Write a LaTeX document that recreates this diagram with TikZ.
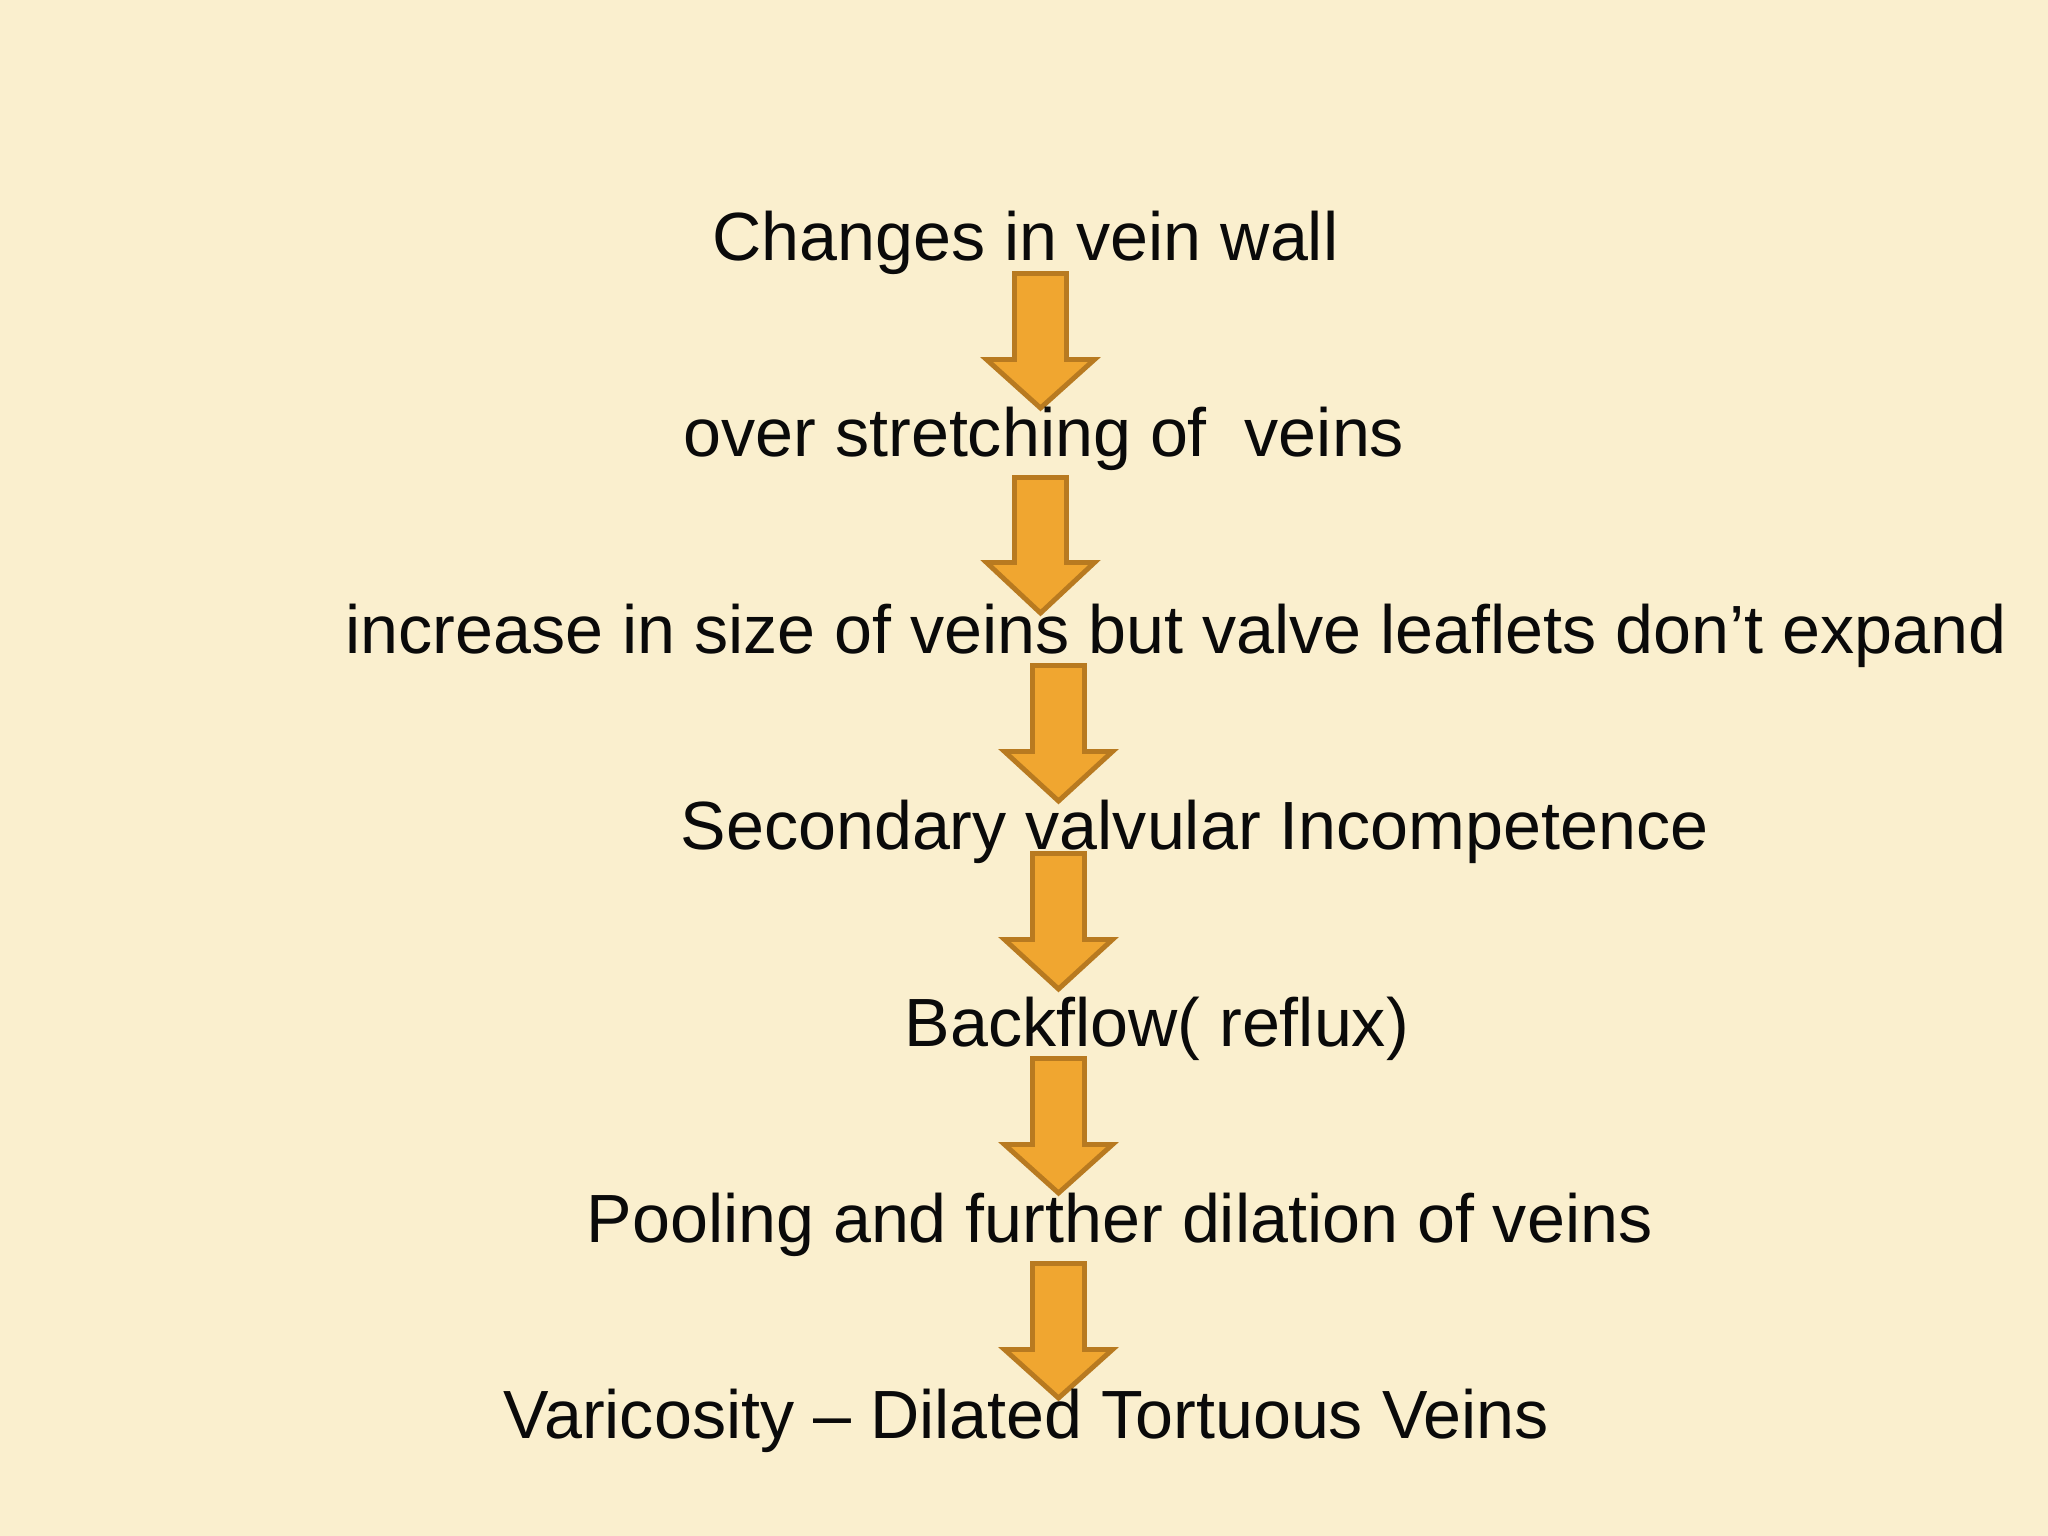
\documentclass[tikz,border=0pt]{standalone}
\usepackage{fontspec}
\setmainfont{Liberation Sans}
\definecolor{bgcream}{RGB}{250,239,206}
\definecolor{arrowfill}{RGB}{240,166,48}
\definecolor{arrowline}{RGB}{184,122,32}
\definecolor{textcol}{RGB}{10,10,10}
\begin{document}
\begin{tikzpicture}[x=0.01cm,y=-0.01cm,
  steptext/.style={anchor=base west,inner sep=0pt,text=textcol,font=\fontsize{19.4}{23}\selectfont},
  blockarrow/.style={fill=arrowfill,draw=arrowline,line width=1.4pt,line join=miter}]
\fill[bgcream] (0,0) rectangle (2048,1536);
\useasboundingbox (0,0) rectangle (2048,1536);
% block arrows: centre x / top / head base / tip
\foreach \cx/\top/\base/\tip [count=\i] in {1040.5/271/357/412, 1040.5/475/560/617, 1058.5/663/749/805, 1058.5/851/937/993, 1058.5/1056/1142/1197, 1058.5/1261/1347/1402}{
  \draw[blockarrow] (\cx-26,\top+2.5) -- (\cx+26,\top+2.5) -- (\cx+26,\base+2.5) -- (\cx+54,\base+2.5)
     -- (\cx,\tip-4) -- (\cx-54,\base+2.5) -- (\cx-26,\base+2.5) -- cycle;
}
\node[steptext] (t1) at (712,260) {Changes in vein wall};
\node[steptext] (t2) at (683,456) {over stretching of\ \ veins};
\node[steptext] (t3) at (345,653) {increase in size of veins but valve leaflets don’t expand};
\node[steptext] (t4) at (680,849) {Secondary valvular Incompetence};
\node[steptext] (t5) at (904,1046) {Backflow( reflux)};
\node[steptext] (t6) at (586,1242) {Pooling and further dilation of veins};
\node[steptext] (t7) at (503,1438) {Varicosity – Dilated Tortuous Veins};
\end{tikzpicture}
\end{document}
